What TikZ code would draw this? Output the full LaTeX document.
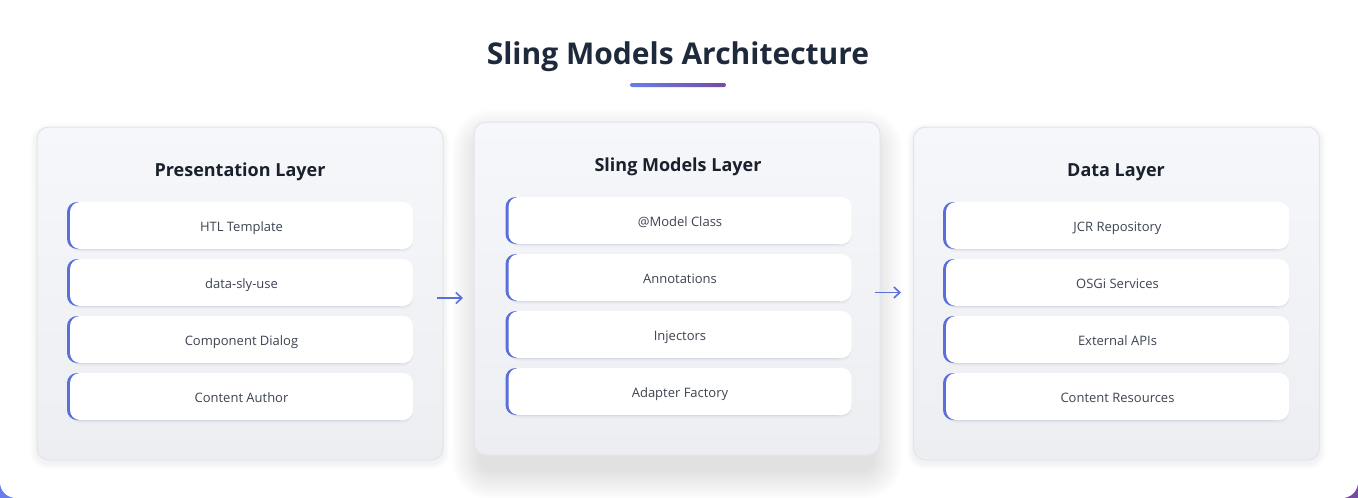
\documentclass[tikz,border=0pt]{standalone}
\usepackage{fontspec}
\setmainfont{Open Sans}
\usetikzlibrary{arrows.meta,calc}
\definecolor{accent}{HTML}{5B6FDA}
\definecolor{gradA}{HTML}{667EEA}
\definecolor{gradB}{HTML}{764BA2}
\definecolor{titlec}{HTML}{1E2A3B}
\definecolor{headc}{HTML}{1A202C}
\definecolor{itemtext}{HTML}{3D4451}
\definecolor{panelborder}{HTML}{E1E5EB}
\definecolor{paneltop}{HTML}{F5F7FA}
\definecolor{panelbot}{HTML}{ECEEF2}
\pgfdeclarelayer{back}
\pgfdeclarelayer{shadow}
\pgfsetlayers{back,shadow,main}
\begin{document}
\begin{tikzpicture}[x=1pt,y=-1pt,
  panel/.style={rectangle, rounded corners=12pt, draw=panelborder, line width=1pt,
    top color=paneltop, bottom color=panelbot,
    minimum width=406pt, minimum height=333pt, inner sep=0pt},
  header/.style={font=\fontsize{18}{22}\selectfont\bfseries, text=headc, inner sep=0pt},
  item/.style={rectangle, rounded corners=10pt, fill=white, minimum width=343pt, minimum height=47pt, inner sep=0pt,
    preaction={fill=black, opacity=0.025, transform canvas={yshift=-3pt}},
    preaction={fill=black, opacity=0.03, transform canvas={yshift=-1.5pt}},
    preaction={fill=accent, transform canvas={xshift=-3pt}},
    font=\fontsize{13}{16}\selectfont, text=itemtext, text height=12pt, text depth=0pt},
  flow/.style={draw=accent, line width=1.6pt, -{Straight Barb[length=6pt,width=11pt]}}
]
\useasboundingbox (0,0) rectangle (1358,498);
% background card
\begin{pgfonlayer}{back}
\begin{scope}
\clip (0,0) rectangle (1358,498);
\shade[left color=gradA, right color=gradB] (0,0) rectangle (1358,498);
\fill[white, rounded corners=16pt] (0,-40) rectangle (1358,498);
\end{scope}
\end{pgfonlayer}
% title
\node[font=\fontsize{30}{36}\selectfont\bfseries, text=titlec, inner sep=0pt] (title) at (678,57) {Sling Models Architecture};
\shade[left color=gradA, right color=gradB, rounded corners=2pt] (630,83) rectangle (726,87);
% panels
\node[panel] (L) at (240,293.5) {};
\node[panel] (M) at (677,288.5) {};
\node[panel] (R) at (1116.5,293.5) {};
% soft shadows
\begin{pgfonlayer}{shadow}
\foreach \r in {0,2,...,28}{
  \pgfmathsetmacro\rc{12+\r}
  \fill[black, opacity=0.0075, rounded corners=\rc pt]
    ($(M.north west)+(-\r+6,16-\r)$) rectangle ($(M.south east)+(\r-6,16+\r)$);
}
\foreach \p in {L,R}{
  \foreach \r in {1,2,...,6}{
    \pgfmathsetmacro\rc{12+\r}
    \fill[black, opacity=0.007, rounded corners=\rc pt]
      ($(\p.north west)+(-\r,3-\r)$) rectangle ($(\p.south east)+(\r,3+\r)$);
  }
}
\end{pgfonlayer}
\node[header] (Lh) at (240,172) {Presentation Layer};
\node[header] (Mh) at (678,167) {Sling Models Layer};
\node[header] (Rh) at (1116,172) {Data Layer};
% items
\node[item] (L1) at (241.5,225.5) {HTL Template};
\node[item] (L2) at (241.5,282.5) {data-sly-use};
\node[item] (L3) at (241.5,339.5) {Component Dialog};
\node[item] (L4) at (241.5,396.5) {Content Author};
\node[item] (M1) at (680,220.5) {@Model Class};
\node[item] (M2) at (680,277.5) {Annotations};
\node[item] (M3) at (680,334.5) {Injectors};
\node[item] (M4) at (680,391.5) {Adapter Factory};
\node[item] (R1) at (1117.5,225.5) {JCR Repository};
\node[item] (R2) at (1117.5,282.5) {OSGi Services};
\node[item] (R3) at (1117.5,339.5) {External APIs};
\node[item] (R4) at (1117.5,396.5) {Content Resources};
% arrows
\coordinate (a1s) at (437,298);
\coordinate (a1e) at (463,298);
\coordinate (a2s) at (875,292.5);
\coordinate (a2e) at (901,292.5);
\draw[flow] (a1s) -- (a1e);
\draw[flow] (a2s) -- (a2e);
\end{tikzpicture}
\end{document}
